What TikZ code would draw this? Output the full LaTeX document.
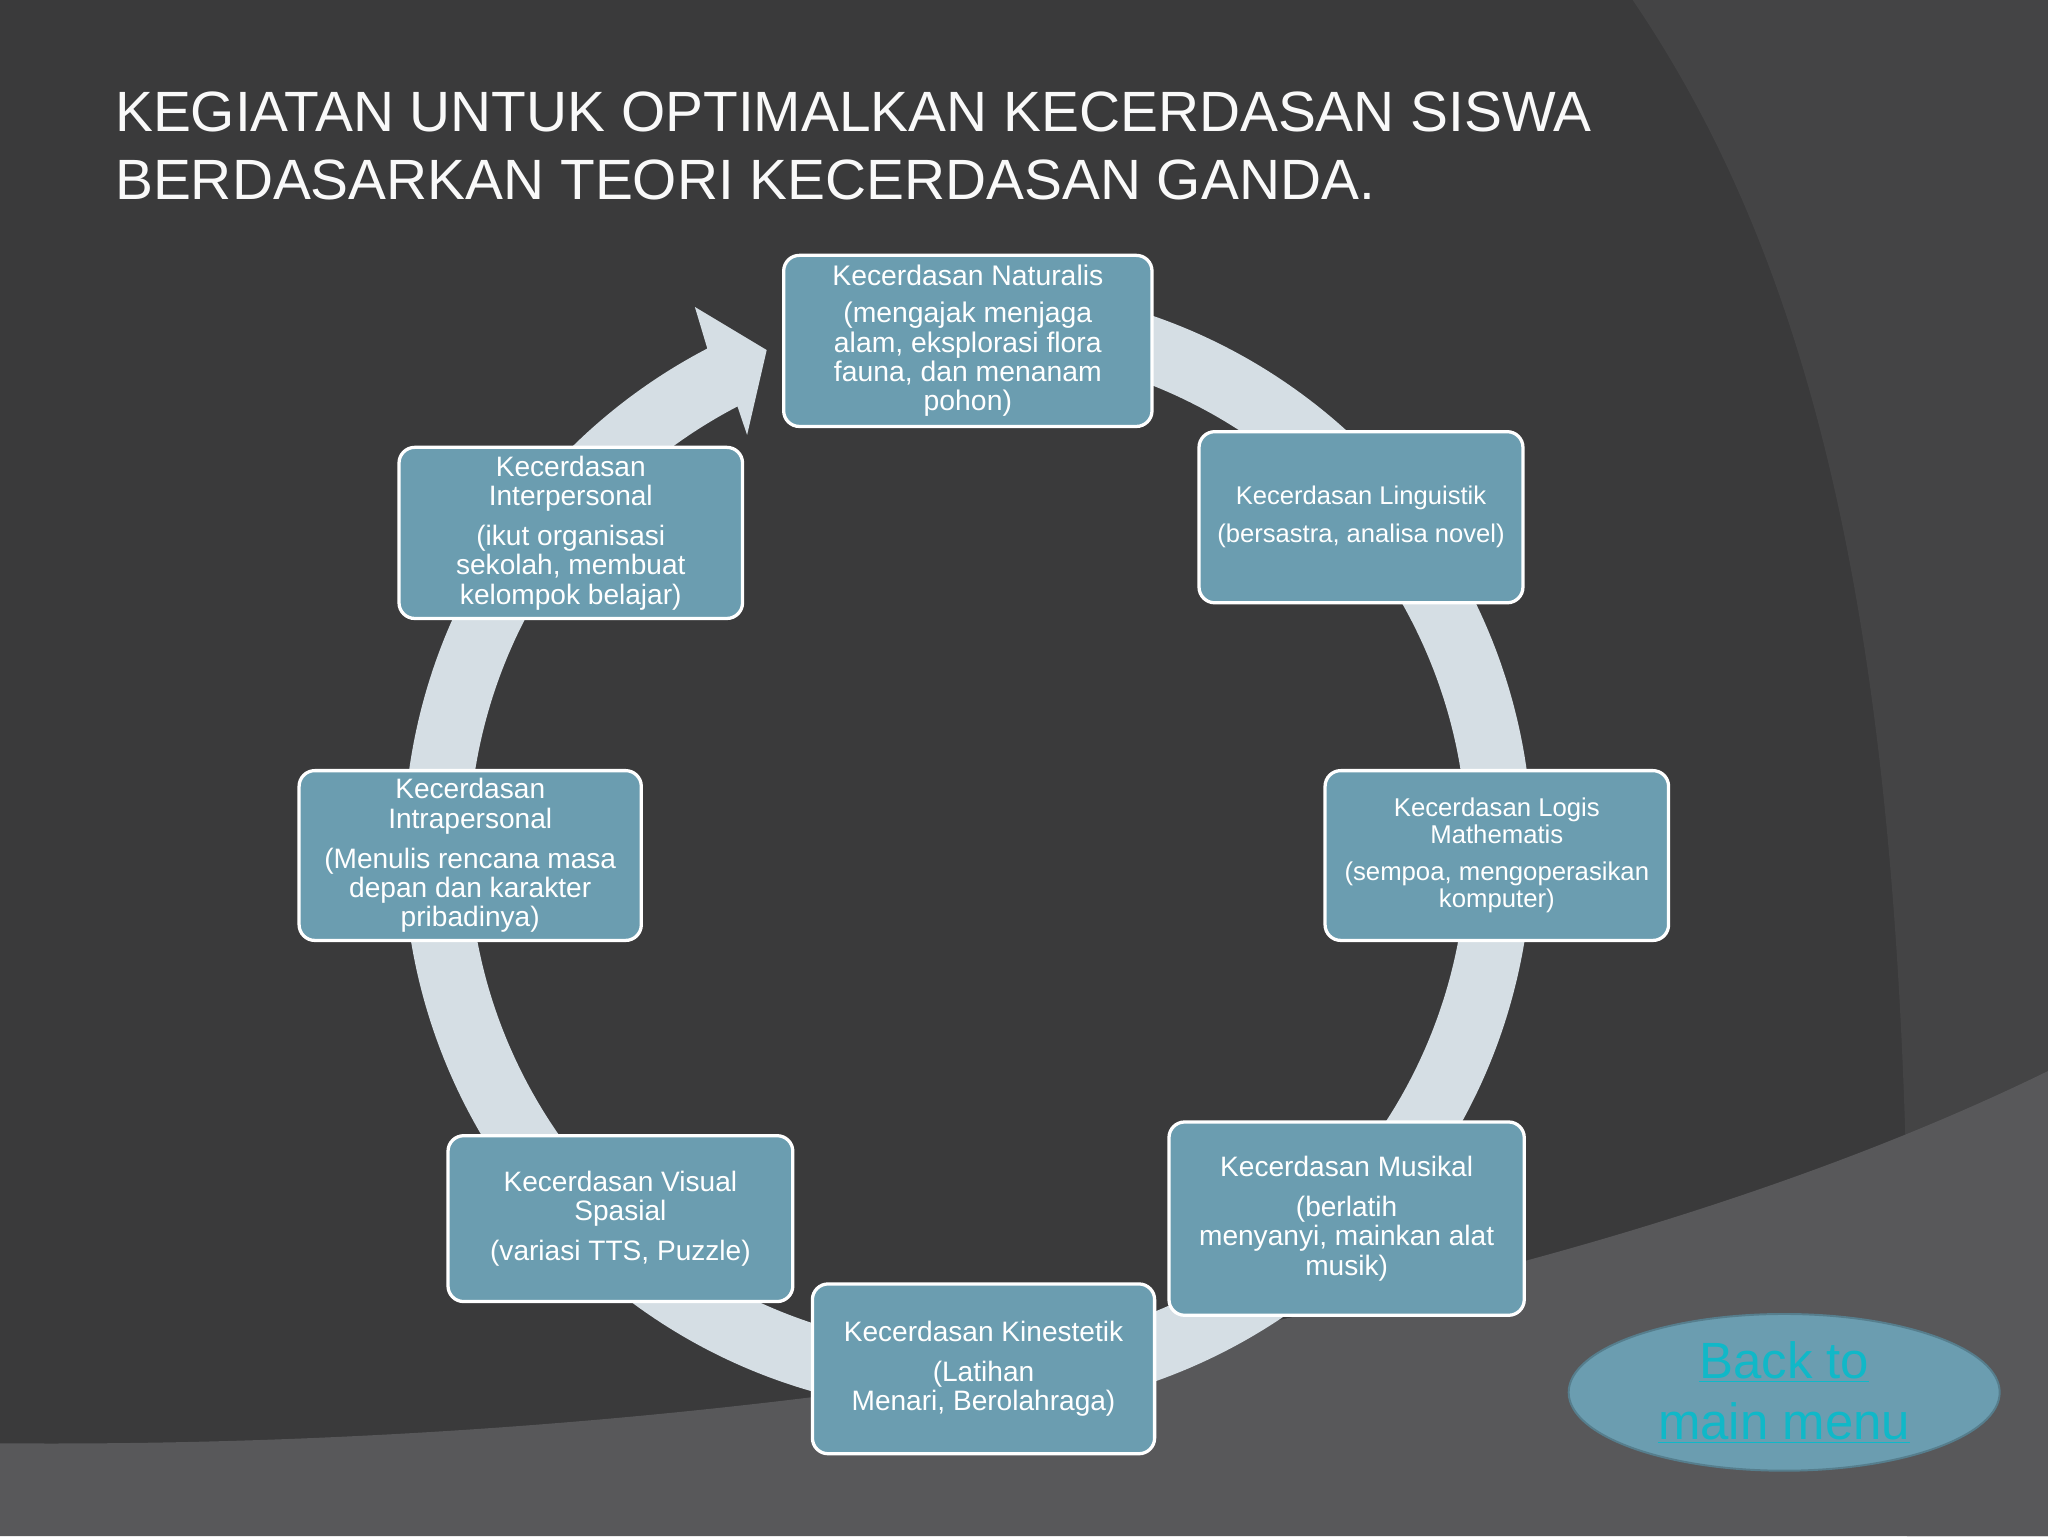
\documentclass[tikz,border=0pt]{standalone}
\usepackage{fontspec}
\setmainfont{Liberation Sans}
\usetikzlibrary{shapes.geometric,calc}
\definecolor{bg}{HTML}{3A3A3B}
\definecolor{bgr}{HTML}{444445}
\definecolor{bgb}{HTML}{58585A}
\definecolor{boxc}{HTML}{6B9DB0}
\definecolor{ring}{HTML}{D5DEE4}
\definecolor{linkc}{HTML}{10B8C8}
\begin{document}
\begin{tikzpicture}[x=1pt,y=-1pt,
  kbox/.style={draw=white,line width=2.5pt,fill=boxc,rounded corners=12pt,text=white,align=center,font=\fontsize{21.5}{22.5}\selectfont,inner sep=4pt}]
\useasboundingbox (0,0) rectangle (1568,1176);
\fill[bg] (0,0) rectangle (1568,1176);
\fill[bgr] (1250,0) .. controls (1420,250) and (1470,600) .. (1460,1176) -- (1568,1176) -- (1568,0) -- cycle;
\fill[bgb] (0,1105) .. controls (600,1110) and (1200,1000) .. (1568,820) -- (1568,1176) -- (0,1176) -- cycle;
\node[anchor=north west,text=white!95!gray,align=left,font=\fontsize{43.5}{52}\selectfont,inner sep=0] (title) at (88,70) {KEGIATAN UNTUK OPTIMALKAN KECERDASAN SISWA\\BERDASARKAN TEORI KECERDASAN GANDA.};
\coordinate (c) at (741,650);
\fill[ring] ($(c)+(-440:432)$) arc[start angle=-440,end angle=-117.5,radius=432]
  -- (532,235) -- (587,268) -- (572,333) -- ($(c)+(-117.5:382)$)
  arc[start angle=-117.5,end angle=-440,radius=382] -- cycle;
\node[kbox,minimum width=282pt,minimum height=131pt,font=\fontsize{21.7}{22.5}\selectfont] (nat) at (741,261) {Kecerdasan Naturalis\\[6pt](mengajak menjaga\\alam, eksplorasi flora\\fauna, dan menanam\\pohon)};
\node[kbox,minimum width=248pt,minimum height=131pt,font=\fontsize{19.6}{21}\selectfont] (lin) at (1042,396) {Kecerdasan Linguistik\\[8pt](bersastra, analisa novel)};
\node[kbox,minimum width=263pt,minimum height=130pt,font=\fontsize{19.7}{20.5}\selectfont] (log) at (1146,655) {Kecerdasan Logis\\Mathematis\\[8pt](sempoa, mengoperasikan\\komputer)};
\node[kbox,minimum width=272pt,minimum height=148pt] (mus) at (1031,933) {Kecerdasan Musikal\\[8pt](berlatih\\menyanyi, mainkan alat\\musik)};
\node[kbox,minimum width=262pt,minimum height=130pt] (kin) at (753,1048) {Kecerdasan Kinestetik\\[8pt](Latihan\\Menari, Berolahraga)};
\node[kbox,minimum width=264pt,minimum height=127pt] (vis) at (475,933) {Kecerdasan Visual\\Spasial\\[8pt](variasi TTS, Puzzle)};
\node[kbox,minimum width=262pt,minimum height=130pt] (intra) at (360,655) {Kecerdasan\\Intrapersonal\\[8pt](Menulis rencana masa\\depan dan karakter\\pribadinya)};
\node[kbox,minimum width=263pt,minimum height=131pt] (inter) at (437,408) {Kecerdasan\\Interpersonal\\[8pt](ikut organisasi\\sekolah, membuat\\kelompok belajar)};
\node[ellipse,draw=boxc!80!black,line width=1.5pt,fill=boxc,minimum width=330pt,minimum height=120pt,text=linkc,align=center,font=\fontsize{39}{47}\selectfont] (back) at (1366,1066) {\underline{Back to}\\\underline{main menu}};
\end{tikzpicture}
\end{document}
